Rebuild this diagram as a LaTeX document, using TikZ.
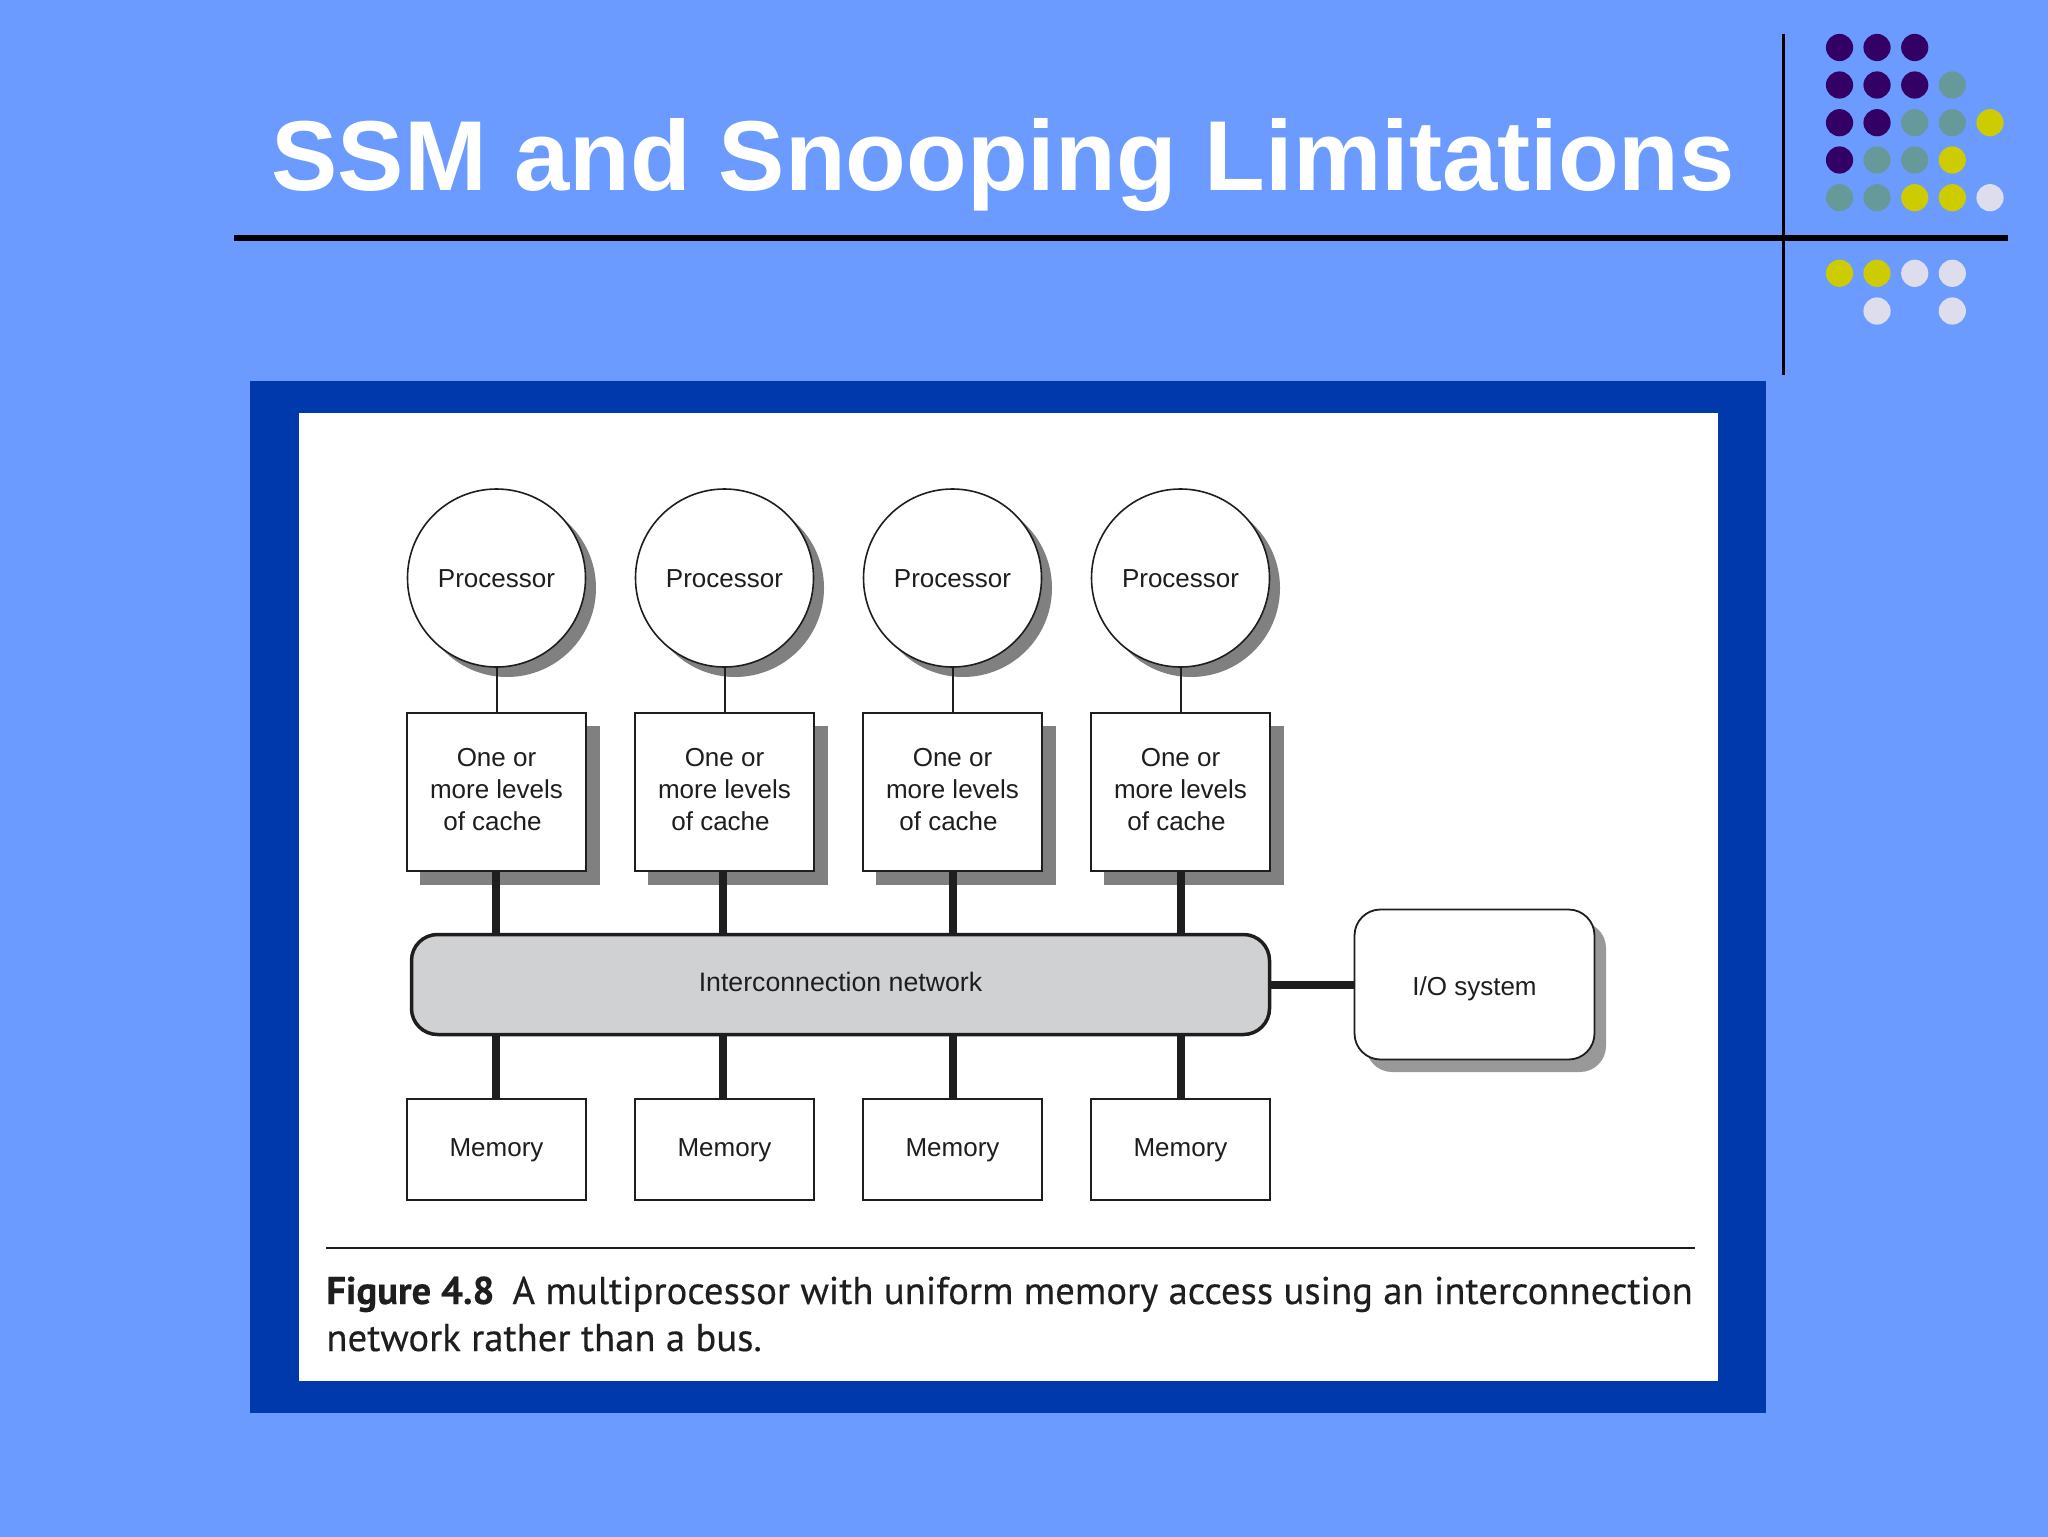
\documentclass[tikz,border=0pt]{standalone}
\usepackage{fontspec}
\setmainfont{Liberation Sans}
\newfontfamily\capfont{PT Sans}
\newcommand{\nudge}[2]{\raisebox{#1}[\height][\depth]{#2}}
\definecolor{slidebg}{HTML}{6B9BFF}
\definecolor{framebl}{HTML}{0039AC}
\definecolor{dotpur}{HTML}{330066}
\definecolor{dotteal}{HTML}{669999}
\definecolor{dotyel}{HTML}{CCCC00}
\definecolor{dotlil}{HTML}{DDDDEE}
\definecolor{shad}{HTML}{808080}
\definecolor{shadlt}{HTML}{999999}
\definecolor{netfill}{HTML}{D0D1D3}
\definecolor{ink}{HTML}{1E1E1E}
\tikzset{
  x=0.5pt,y=-0.5pt,
  lbl/.style={font=\fontsize{13}{16}\selectfont,text=ink,align=center},
  cpu/.style={circle,draw=ink,fill=white,line width=0.8pt,minimum size=89pt,inner sep=0pt,lbl},
  cache/.style={rectangle,draw=ink,fill=white,line width=1pt,minimum width=89.5pt,minimum height=79pt,inner sep=0pt,lbl},
  mem/.style={rectangle,draw=ink,fill=white,line width=1pt,minimum width=89.5pt,minimum height=50.5pt,inner sep=0pt,lbl},
  netw/.style={rectangle,rounded corners=13pt,draw=ink,fill=netfill,line width=1.75pt,minimum width=429pt,minimum height=50pt,inner sep=0pt,lbl},
  iosys/.style={rectangle,rounded corners=13pt,draw=ink,fill=white,line width=0.9pt,minimum width=120pt,minimum height=75pt,inner sep=0pt,lbl},
  thin/.style={draw=ink,line width=1pt},
  bus/.style={draw=ink,line width=4pt},
  dot/.style={circle,inner sep=0pt,minimum size=13.6pt},
  captext/.style={anchor=base west,inner sep=0pt,text=ink,font=\capfont\fontsize{19.35}{19.35}\selectfont\addfontfeature{FakeBold=0.3}},
}
\begin{document}
\begin{tikzpicture}
\useasboundingbox (0,0) rectangle (2048,1536);
\fill[slidebg] (-6,-6) rectangle (2054,1542);
% title and rules
\node[anchor=base west,inner sep=0pt,text=white,font=\fontsize{49.7}{50}\selectfont\bfseries] (title) at (271,190) {SSM and Snooping Limitations};
\coordinate (rl) at (234,237.5); \coordinate (rr) at (2008,237.5);
\coordinate (vt) at (1783.5,34); \coordinate (vb) at (1783.5,375);
\draw[black,line width=3pt] (rl) -- (rr);
\draw[black,line width=1.1pt] (vt) -- (vb);
% dots
\foreach \n/\c/\x/\y in {
 a1/dotpur/1839.5/47.5,a2/dotpur/1877/47.5,a3/dotpur/1914.7/47.5,
 b1/dotpur/1839.5/85,b2/dotpur/1877/85,b3/dotpur/1914.7/85,b4/dotteal/1952.3/85,
 c1/dotpur/1839.5/122.7,c2/dotpur/1877/122.7,c3/dotteal/1914.7/122.7,c4/dotteal/1952.3/122.7,c5/dotyel/1990/122.7,
 d1/dotpur/1839.5/160,d2/dotteal/1877/160,d3/dotteal/1914.7/160,d4/dotyel/1952.3/160,
 e1/dotteal/1839.5/197.7,e2/dotteal/1877/197.7,e3/dotyel/1914.7/197.7,e4/dotyel/1952.3/197.7,e5/dotlil/1990/197.7,
 f1/dotyel/1839.5/273.3,f2/dotyel/1877/273.3,f3/dotlil/1914.7/273.3,f4/dotlil/1952.3/273.3,
 g2/dotlil/1877/311,g4/dotlil/1952.3/311}
  \node[dot,fill=\c] (dot\n) at (\x,\y) {};
% frame
\fill[framebl] (250,381) rectangle (1766,1413);
\fill[white] (299,412.7) rectangle (1717.5,1380.5);
% drop shadows
\foreach \x in {497,725,953,1181}{
  \fill[shad] (\x+10,588) circle[radius=89];
  \fill[shad] (\x-77,725.7) rectangle (\x+103,885);
}
\fill[shadlt,rounded corners=13pt] (1366,922) rectangle (1606,1072);
% nodes
\foreach \i/\x in {1/496.5,2/724.5,3/952.5,4/1180.5}{
  \node[cpu] (p\i) at (\x,578) {\nudge{-0.5pt}{Processor}};
  \node[cache] (c\i) at (\x,792) {\nudge{1.2pt}{One or}\\\nudge{1.2pt}{more levels}\\\nudge{1.2pt}{of cache}\hspace*{4pt}};
  \node[mem] (m\i) at (\x,1149.5) {\nudge{-0.5pt}{Memory}};
}
\node[netw] (net) at (840.5,984.5) {\fontsize{13.35}{16}\selectfont\nudge{1.5pt}{Interconnection network}};
\node[iosys] (io) at (1474.5,984.5) {\nudge{-1.9pt}{I/O system}};
% connectors
\foreach \i/\d in {1/-0.3,2/-0.7,3/0,4/0}{
  \draw[thin] (p\i.south) -- (c\i.north);
  \draw[bus] ([xshift=\d pt]c\i.south) -- ([xshift=\d pt]c\i.south |- net.north);
  \draw[bus] ([xshift=\d pt]m\i.north |- net.south) -- ([xshift=\d pt]m\i.north);
}
\draw[bus] (net.east) -- (io.west);
% caption
\coordinate (cl) at (326,1247.5); \coordinate (cr) at (1695,1247.5);
\draw[ink,line width=1pt] (cl) -- (cr);
\node[captext] (cap1) at (326,1304) {\textbf{Figure 4.8}\hspace{9pt}A multiprocessor with uniform memory access using an interconnection};
\node[captext] (cap2) at (326,1351) {network rather than a bus.};
\end{tikzpicture}
\end{document}
